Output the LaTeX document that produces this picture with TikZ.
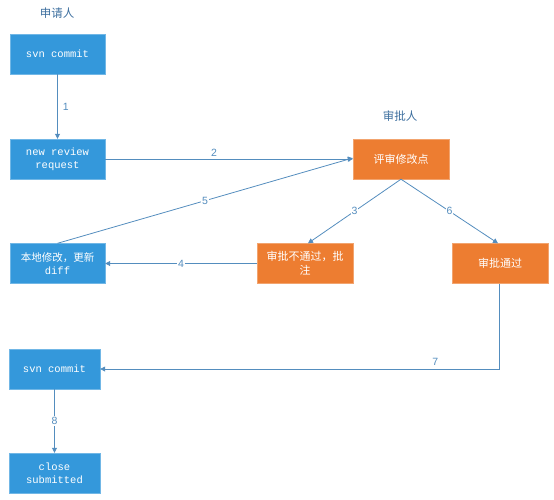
\documentclass[tikz,border=0pt]{standalone}
\usepackage{fontspec}
\setmonofont{Liberation Mono}
\newfontfamily\cjk{Noto Sans CJK SC}
\newfontfamily\numf{Liberation Sans}
\usetikzlibrary{arrows.meta}
\definecolor{boxblue}{RGB}{52,152,219}
\definecolor{boxorange}{RGB}{237,125,49}
\definecolor{linec}{RGB}{84,141,190}
\definecolor{titlec}{RGB}{60,110,158}
\tikzset{
  bluebox/.style={draw=boxblue!70!white, fill=boxblue, text=white, minimum width=95pt, minimum height=40pt, inner sep=1pt, align=center, font=\ttfamily\fontsize{10.5}{13}\selectfont},
  orangebox/.style={draw=boxorange!70!white, fill=boxorange, text=white, minimum width=96pt, minimum height=40pt, inner sep=1pt, align=center, font=\cjk\fontsize{11}{14}\selectfont},
  conn/.style={draw=linec, line width=0.8pt, -{Triangle[width=5pt,length=5pt]}},
  lbl/.style={font=\numf\fontsize{10.5}{12}\selectfont, text=linec, inner sep=1pt},
  lblw/.style={lbl, fill=white},
  ttl/.style={font=\cjk\fontsize{11.5}{13}\selectfont, text=titlec}
}
\begin{document}
\begin{tikzpicture}[x=1pt,y=-1pt]
\useasboundingbox (0,0) rectangle (554,499);
\node[ttl] (t1) at (57,13) {申请人};
\node[ttl] (t2) at (400,116) {审批人};
\node[bluebox] (a) at (57.5,54) {svn commit};
\node[bluebox] (b) at (57.5,159) {new review\\request};
\node[bluebox] (c) at (57.5,263.5) {{\cjk 本地修改，更新}\\diff};
\node[bluebox, minimum width=91pt] (d) at (54.5,369) {svn commit};
\node[bluebox, minimum width=91pt] (e) at (54.5,473) {close\\submitted};
\node[orangebox] (r) at (401,159) {评审修改点};
\node[orangebox] (n) at (305,263.5) {审批不通过，批\\注};
\node[orangebox] (p) at (500,263.5) {审批通过};
\coordinate (pc) at (499,369);
\draw[conn] (a) -- node[lbl, right=4pt, pos=0.5] {1} (b);
\draw[conn] (b) -- node[lbl, above=1pt, pos=0.44] {2} (r);
\draw[conn] (r.south) -- node[lblw, pos=0.5] {3} ([xshift=3pt]n.north);
\draw[conn] (n) -- node[lblw, pos=0.5] {4} (c);
\draw[conn] (c.north) -- node[lblw, pos=0.5] {5} ([yshift=1pt]r.west);
\draw[conn] (r.south) -- node[lblw, pos=0.5] {6} ([xshift=-2pt]p.north);
\draw[conn] ([xshift=-1pt]p.south) -- (pc) -- node[lbl, above=2pt, pos=0.16] {7} (d);
\draw[conn] (d) -- node[lblw, pos=0.5] {8} (e);
\end{tikzpicture}
\end{document}
